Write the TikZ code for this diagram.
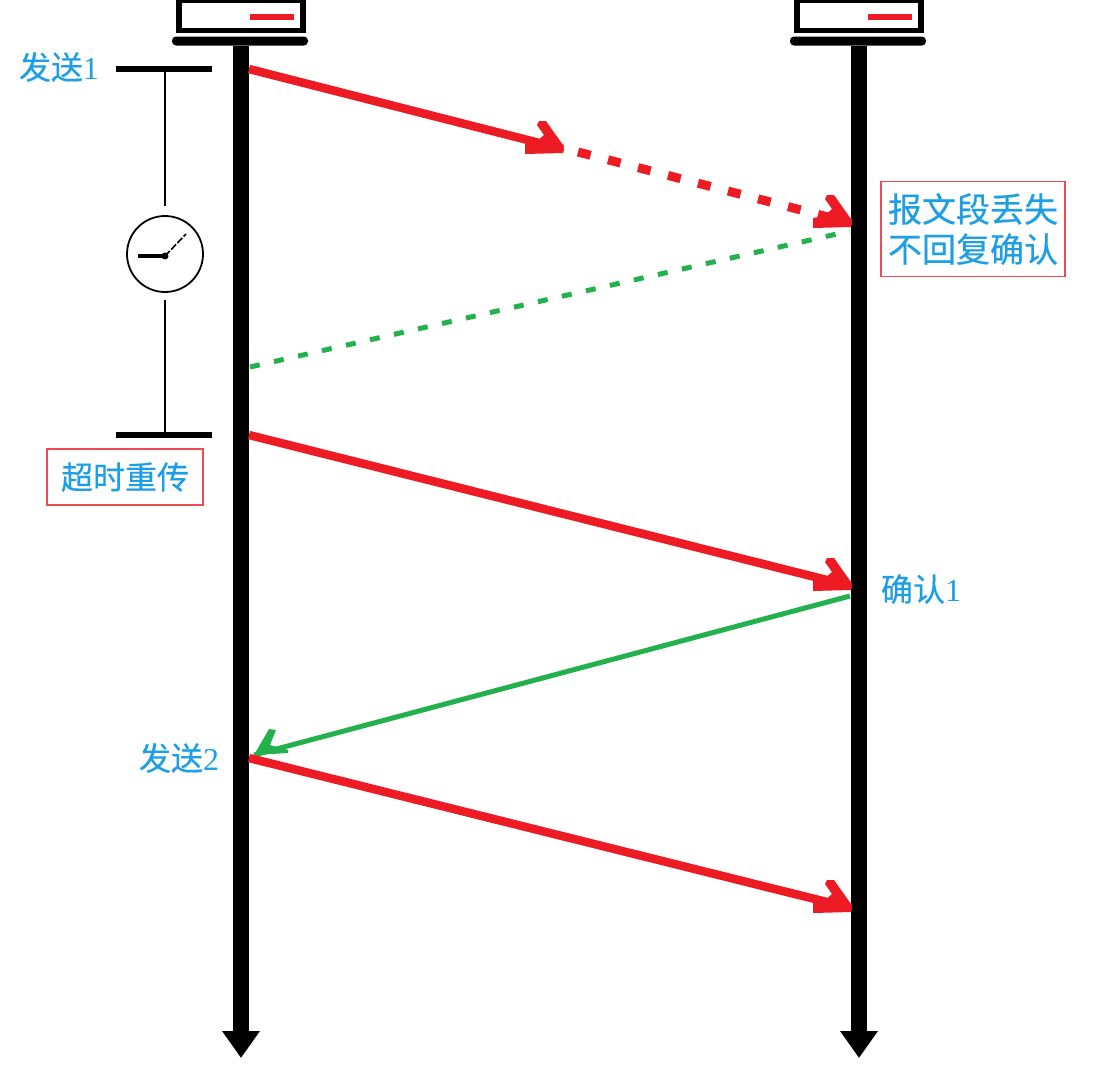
\documentclass[tikz,border=0pt]{standalone}
\usepackage{fontspec}
\setmainfont{Liberation Serif}
\newfontfamily\cjk{Noto Sans CJK SC}[FakeBold=0.4]
\usetikzlibrary{arrows.meta}
\definecolor{pktred}{HTML}{ED1C24}
\definecolor{ackgreen}{HTML}{22B14C}
\definecolor{lblblue}{HTML}{1E9FE3}
\definecolor{boxred}{HTML}{F04A55}
\tikzset{
  lifeline/.style={line width=16.5pt,-{Triangle[length=27pt,width=36pt]}},
  hostframe/.style={draw=black,line width=5.5pt,minimum width=124pt,minimum height=30.5pt,inner sep=0pt},
  hostbase/.style={draw=none,fill=black,rounded corners=4pt,minimum width=136pt,minimum height=9pt,inner sep=0pt},
  led/.style={draw=none,fill=pktred,minimum width=44pt,minimum height=6pt,inner sep=0pt},
  tick/.style={line width=6pt},
  thinline/.style={line width=1.6pt},
  pkt/.style={draw=pktred,line width=8.5pt},
  pktdash/.style={pkt,line width=9pt,dash pattern=on 13pt off 18pt},
  ack/.style={draw=ackgreen,line width=5pt},
  ackdash/.style={ack,dash pattern=on 10pt off 14.6pt},
  lbl/.style={text=lblblue,font=\cjk\fontsize{32}{34}\selectfont,inner sep=0pt,align=center},
  lblbox/.style={lbl,draw=boxred,line width=1.8pt},
  redtip/.pic={\fill[pktred] (1,1) -- (0,-4) -- (-17,-28) -- (-24,-28) -- (-26,-24) -- (-19,-14) -- (-27,-7) -- (-38,-5) -- (-38,5) -- (0,4) -- cycle;},
  greentip/.pic={\fill[ackgreen] (0,0) -- (15,-26) -- (22,-25) -- (16,-10) -- (34,-5) -- (34,-2) -- cycle;},
}
\begin{document}
\begin{tikzpicture}[x=1pt,y=-1pt]
\useasboundingbox (0,0) rectangle (1106,1080);
\clip (0,0) rectangle (1106,1080);
% hosts
\node[hostframe] (hostA) at (241,15.25) {};
\node[hostframe] (hostB) at (859,15.25) {};
\node[hostbase] (baseA) at (240,41) {};
\node[hostbase] (baseB) at (858,41) {};
\node[led] (ledA) at (272,17) {};
\node[led] (ledB) at (890,17) {};
% lifelines
\coordinate (endA) at (241,1058);
\coordinate (endB) at (859,1058);
\draw[lifeline] (baseA.south -| endA) -- (endA);
\draw[lifeline] (baseB.south -| endB) -- (endB);
% timer
\coordinate (tt1) at (116,69); \coordinate (tt2) at (212,69);
\coordinate (tb1) at (116,435); \coordinate (tb2) at (212,435);
\draw[tick] (tt1) -- (tt2);
\draw[tick] (tb1) -- (tb2);
\node[circle,draw=black,line width=1.8pt,minimum size=76pt,inner sep=0pt] (clock) at (165,254) {};
\coordinate (ttm) at (165,69); \coordinate (tbm) at (165,435);
\draw[thinline] (ttm) -- (165,206);
\draw[thinline] (165,300) -- (tbm);
\fill (165,256) circle (3.5pt);
\coordinate (hourEnd) at (138,256);
\coordinate (minEnd) at (186,234);
\draw[line width=4pt] (165,256) -- (hourEnd);
\draw[line width=1.6pt,dash pattern=on 7pt off 2pt] (165,256) -- (minEnd);
% messages
\coordinate (s1) at (249,69);
\coordinate (m1) at (563,149);
\coordinate (m1b) at (578,152);
\coordinate (r1) at (851,223);
\coordinate (ra) at (850,231);
\coordinate (sa) at (250,367);
\coordinate (s2) at (249,435);
\coordinate (r2) at (851,586);
\coordinate (ra2) at (850,596);
\coordinate (sa2) at (254,755);
\coordinate (s3) at (249,758);
\coordinate (r3) at (851,908);
\draw[pkt] (s1) -- (m1);
\pic at (m1) {redtip};
\draw[pktdash] (m1b) -- (r1);
\pic at (r1) {redtip};
\draw[ackdash] (sa) -- (ra);
\draw[pkt] (s2) -- (r2);
\pic at (r2) {redtip};
\draw[ack] (ra2) -- (sa2);
\pic at (sa2) {greentip};
\draw[pkt] (s3) -- (r3);
\pic at (r3) {redtip};
% labels
\node[lbl] (l1) at (59,67) {发送{\rmfamily 1}};
\node[lbl] (l2) at (179,758) {发送{\rmfamily 2}};
\node[lbl] (l3) at (921,589) {确认{\rmfamily 1}};
\node[lblbox,font=\cjk\fontsize{34}{40}\selectfont,minimum width=184pt,minimum height=95pt] (l4) at (973,229) {报文段丢失\\不回复确认};
\node[lblbox,minimum width=156pt,minimum height=56pt] (l5) at (125,477) {超时重传};
\end{tikzpicture}
\end{document}
